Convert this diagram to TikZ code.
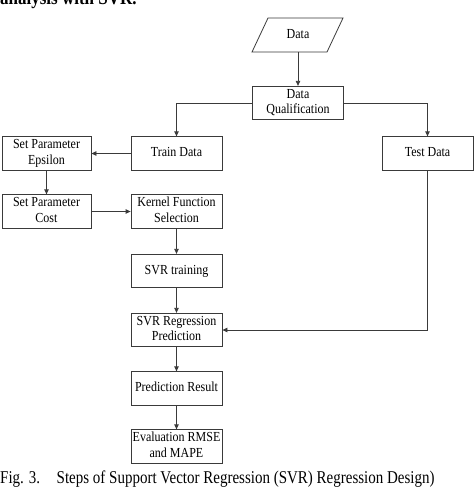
\documentclass[tikz,border=0pt]{standalone}
\usepackage{fontspec}
\setmainfont{Liberation Serif}
\usetikzlibrary{arrows.meta}
\definecolor{linec}{HTML}{3A3A3A}
\newcommand{\bt}[1]{\scalebox{1}[1.15]{\begin{tabular}{@{}c@{}}#1\end{tabular}}}
\tikzset{
  box/.style={draw=linec, line width=0.8pt, fill=white, minimum width=91pt, minimum height=33.5pt,
    inner sep=0pt, align=center, font=\fontsize{12}{13.5}\selectfont},
  conn/.style={draw=linec, line width=0.8pt, -{Triangle[length=5pt,width=4.5pt]}},
}
\begin{document}
\begin{tikzpicture}[x=1pt,y=-1pt]
\useasboundingbox (0,0) rectangle (474,488);
% truncated heading at the top
\node[anchor=base west, inner sep=0pt, font=\fontsize{17}{18}\bfseries\selectfont] (head) at (0,4) {\scalebox{1}[1.15]{analysis with SVR.}};
% data parallelogram
\draw[draw=linec, line width=0.8pt] (252,52) -- (268,18) -- (343,18) -- (327,52) -- cycle;
\node[inner sep=0pt, minimum height=34pt, font=\fontsize{12}{13.5}\selectfont] (data) at (298,35) {\bt{Data}};
\node[box] (dq) at (298,103) {\bt{Data\\Qualification}};
\node[box] (train) at (176.5,153.5) {\bt{Train Data}};
\node[box, minimum width=91pt] (test) at (427.5,153.5) {\bt{Test Data}};
\node[box, minimum width=89pt] (eps) at (46.5,153.5) {\bt{Set Parameter\\Epsilon}};
\node[box, minimum width=89pt] (cost) at (46.5,211.5) {\bt{Set Parameter\\Cost}};
\node[box] (kern) at (176.5,211.5) {\bt{Kernel Function\\Selection}};
\node[box] (svrt) at (176.5,271) {\bt{SVR training}};
\node[box] (svrp) at (176.5,330) {\bt{SVR Regression\\Prediction}};
\node[box] (pred) at (176.5,388.5) {\bt{Prediction Result}};
\node[box] (eval) at (176.5,446.5) {\bt{Evaluation RMSE\\and MAPE}};
\node[anchor=base west, inner sep=0pt, font=\fontsize{15}{16}\selectfont] (cap) at (0,483)
  {\scalebox{1}[1.2]{Fig. 3.\hspace{1.1em}Steps of Support Vector Regression (SVR) Regression Design)}};
% connectors
\draw[conn] (data.south) -- (dq.north);
\draw[conn] (dq.west) -| (train.north);
\draw[conn] (dq.east) -| (test.north);
\draw[conn] (train.west) -- (eps.east);
\draw[conn] (eps.south) -- (cost.north);
\draw[conn] (cost.east) -- (kern.west);
\draw[conn] (kern.south) -- (svrt.north);
\draw[conn] (svrt.south) -- (svrp.north);
\draw[conn] (test.south) |- (svrp.east);
\draw[conn] (svrp.south) -- (pred.north);
\draw[conn] (pred.south) -- (eval.north);
\end{tikzpicture}
\end{document}
